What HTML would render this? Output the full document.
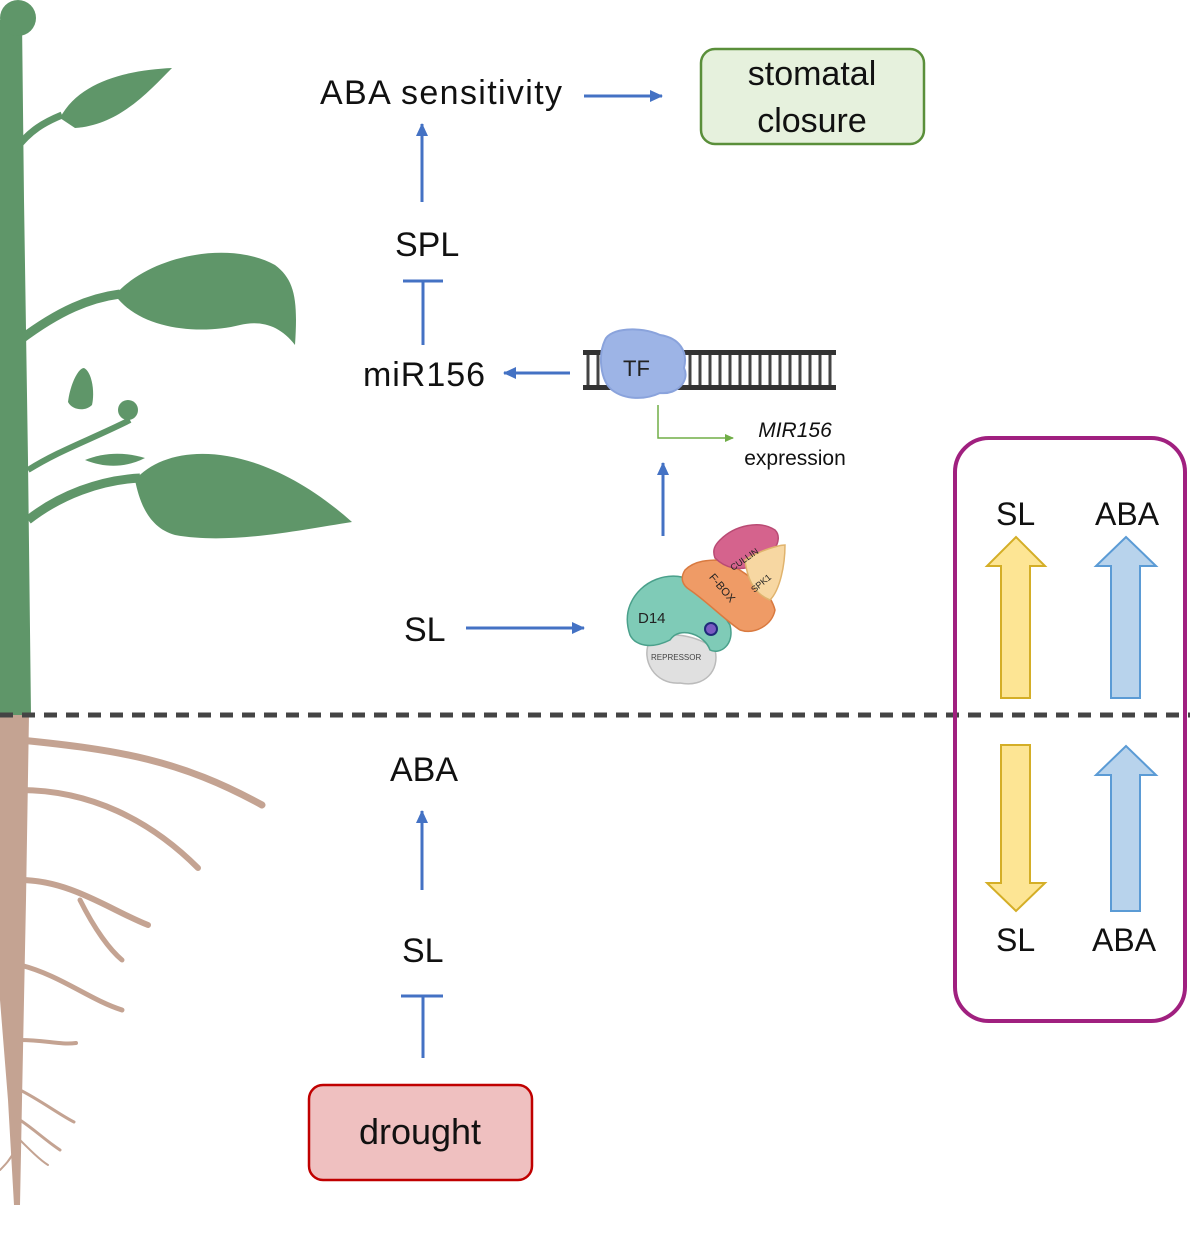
<!DOCTYPE html>
<html><head><meta charset="utf-8"><style>
body{margin:0;background:#fff;}
svg text{font-family:"Liberation Sans",sans-serif;}
</style></head><body>
<svg width="1200" height="1249" viewBox="0 0 1200 1249" xmlns="http://www.w3.org/2000/svg">
<defs>
<marker id="ab" markerWidth="13" markerHeight="12" refX="12" refY="6" orient="auto" markerUnits="userSpaceOnUse"><path d="M0,0 L13,6 L0,12 z" fill="#4472c4"/></marker>
<marker id="ag" markerWidth="9" markerHeight="8" refX="8" refY="4" orient="auto" markerUnits="userSpaceOnUse"><path d="M0,0 L9,4 L0,8 z" fill="#70ad47"/></marker>
</defs>
<!-- roots -->
<g stroke="#c4a392" fill="none" stroke-linecap="round">
<path d="M20,740 C120,750 180,760 262,805" stroke-width="7"/>
<path d="M20,790 C90,790 150,820 198,868" stroke-width="6"/>
<path d="M20,880 C70,880 110,910 148,925" stroke-width="6"/>
<path d="M80,900 C95,930 110,950 122,960" stroke-width="5"/>
<path d="M20,965 C60,975 90,1000 122,1010" stroke-width="5"/>
<path d="M20,1040 C45,1040 60,1045 76,1043" stroke-width="4"/>
<path d="M20,1090 C40,1100 60,1115 74,1122" stroke-width="3"/>
<path d="M20,1120 C35,1130 45,1140 60,1150" stroke-width="3"/>
<path d="M20,1140 C30,1150 40,1160 48,1165" stroke-width="2"/>
<path d="M15,1150 C10,1160 5,1165 0,1170" stroke-width="2"/>
</g>
<path d="M0,715 L29,715 L26,900 L22,1100 L20,1205 L14,1205 L8,1100 L0,1000 z" fill="#c4a392"/>
<!-- stem and leaves -->
<g fill="#5f9669">
<path d="M0,20 L22,20 L24,200 L28,460 L31,715 L0,715 z"/>
<circle cx="18" cy="18" r="18"/>
<path d="M15,150 C30,130 45,122 62,115" stroke="#5f9669" stroke-width="7" fill="none"/>
<path d="M60,118 C80,80 130,70 172,68 C150,90 120,125 75,128 z"/>
<path d="M20,340 C60,310 90,298 120,294" stroke="#5f9669" stroke-width="9" fill="none"/>
<path d="M115,295 C150,255 230,240 275,265 C295,280 298,300 295,345 C280,325 260,320 240,325 C200,335 140,330 115,295 z"/>
<path d="M28,520 C60,495 100,480 140,478" stroke="#5f9669" stroke-width="9" fill="none"/>
<path d="M135,480 C170,440 260,440 352,522 C300,530 230,545 175,535 C150,528 140,505 135,480 z"/>
<path d="M28,470 C60,450 90,440 130,420" stroke="#5f9669" stroke-width="6" fill="none"/>
<path d="M68,402 C70,385 78,368 84,368 C92,372 95,392 92,405 C85,412 72,410 68,402z"/>
<path d="M85,460 C105,452 125,452 145,458 C125,468 105,468 85,460z"/>
<circle cx="128" cy="410" r="10"/>
</g>
<!-- dashed line -->
<line x1="0" y1="715" x2="1190" y2="715" stroke="#444" stroke-width="5" stroke-dasharray="13,9"/>
<!-- texts -->
<g font-size="34" fill="#111">
<text x="320" y="104" textLength="242">ABA sensitivity</text>
<text x="395" y="256">SPL</text>
<text x="363" y="386" textLength="122">miR156</text>
<text x="404" y="641">SL</text>
<text x="390" y="781">ABA</text>
<text x="402" y="962">SL</text>
</g>
<!-- connectors -->
<g stroke="#4472c4" stroke-width="3" fill="none">
<line x1="584" y1="96" x2="662" y2="96" marker-end="url(#ab)"/>
<line x1="422" y1="202" x2="422" y2="124" marker-end="url(#ab)"/>
<line x1="423" y1="345" x2="423" y2="281"/>
<line x1="403" y1="281" x2="443" y2="281"/>
<line x1="570" y1="373" x2="504" y2="373" marker-end="url(#ab)"/>
<line x1="663" y1="536" x2="663" y2="463" marker-end="url(#ab)"/>
<line x1="466" y1="628" x2="584" y2="628" marker-end="url(#ab)"/>
<line x1="422" y1="890" x2="422" y2="811" marker-end="url(#ab)"/>
<line x1="423" y1="1058" x2="423" y2="996"/>
<line x1="401" y1="996" x2="443" y2="996"/>
</g>
<!-- stomatal box -->
<rect x="701" y="49" width="223" height="95" rx="14" fill="#e6f1dd" stroke="#5a8f3a" stroke-width="2.5"/>
<text x="812" y="85" font-size="34" text-anchor="middle" fill="#111">stomatal</text>
<text x="812" y="132" font-size="34" text-anchor="middle" fill="#111">closure</text>
<!-- drought -->
<rect x="309" y="1085" width="223" height="95" rx="14" fill="#efc0c0" stroke="#c00000" stroke-width="2.5"/>
<text x="420" y="1144" font-size="36" text-anchor="middle" fill="#111">drought</text>
<!-- DNA -->
<g>
<rect x="583" y="350" width="253" height="5" fill="#333"/>
<rect x="583" y="385" width="253" height="5" fill="#333"/>
<g stroke="#444" stroke-width="3">
<line x1="588" y1="355" x2="588" y2="385"/><line x1="598" y1="355" x2="598" y2="385"/>
<line x1="690" y1="355" x2="690" y2="385"/><line x1="700" y1="355" x2="700" y2="385"/><line x1="710" y1="355" x2="710" y2="385"/><line x1="720" y1="355" x2="720" y2="385"/><line x1="730" y1="355" x2="730" y2="385"/><line x1="740" y1="355" x2="740" y2="385"/><line x1="750" y1="355" x2="750" y2="385"/><line x1="760" y1="355" x2="760" y2="385"/><line x1="770" y1="355" x2="770" y2="385"/><line x1="780" y1="355" x2="780" y2="385"/><line x1="790" y1="355" x2="790" y2="385"/><line x1="800" y1="355" x2="800" y2="385"/><line x1="810" y1="355" x2="810" y2="385"/><line x1="820" y1="355" x2="820" y2="385"/><line x1="830" y1="355" x2="830" y2="385"/>
</g>
<path d="M605,340 C610,328 640,326 660,335 C680,338 688,352 684,368 C690,380 678,395 660,393 C645,400 625,400 612,390 C600,380 598,355 605,340z" fill="#9db4e6" stroke="#8aa3dc" stroke-width="2"/>
<text x="623" y="376" font-size="22" fill="#222">TF</text>
</g>
<path d="M658,405 L658,438 L733,438" stroke="#70ad47" stroke-width="1.5" fill="none" marker-end="url(#ag)"/>
<text x="795" y="437" font-size="21" font-style="italic" text-anchor="middle" fill="#111">MIR156</text>
<text x="795" y="465" font-size="21" text-anchor="middle" fill="#111">expression</text>
<!-- protein complex -->
<g stroke-width="1.5">
<path d="M650,640 C640,660 655,685 680,683 C705,688 720,670 715,650 C700,635 665,630 650,640z" fill="#e0e0e0" stroke="#bbb"/>
<path d="M630,605 C640,580 670,570 690,580 C710,590 720,610 730,625 C735,645 720,655 710,650 C705,635 680,625 670,640 C650,650 635,645 630,635 C625,620 628,610 630,605z" fill="#7fcbb7" stroke="#4aa08b"/>
<path d="M685,570 C695,560 710,560 720,560 C745,570 770,590 775,610 C772,625 755,635 740,630 C725,620 705,600 690,590 C682,585 680,578 685,570z" fill="#ef9b66" stroke="#d97a40"/>
<path d="M720,540 C735,525 760,520 775,530 C785,540 770,560 755,565 C740,572 725,568 715,558 C712,550 715,545 720,540z" fill="#d5638d" stroke="#b94b74"/>
<path d="M745,560 C760,550 780,545 785,545 C785,565 780,590 770,600 C758,595 748,585 745,560z" fill="#f7d7a2" stroke="#e0b36d"/>
<circle cx="711" cy="629" r="6" fill="#7a5bc2" stroke="#1f2a7a" stroke-width="2"/>
</g>
<text x="638" y="623" font-size="15" fill="#222">D14</text>
<text x="651" y="660" font-size="8" fill="#444">REPRESSOR</text>
<text x="705" y="585" font-size="11" fill="#222" transform="rotate(50 715 585)">F-BOX</text>
<text x="728" y="565" font-size="9" fill="#222" transform="rotate(-35 740 560)">CULLIN</text>
<text x="748" y="588" font-size="9" fill="#222" transform="rotate(-40 758 582)">SPK1</text>
<!-- right box -->
<rect x="955" y="438" width="230" height="583" rx="34" fill="none" stroke="#a0207f" stroke-width="4"/>
<g font-size="32" fill="#111">
<text x="996" y="525">SL</text>
<text x="1095" y="525">ABA</text>
<text x="996" y="951">SL</text>
<text x="1092" y="951">ABA</text>
</g>
<path d="M1001,698 L1001,566 L987,566 L1016,537 L1045,566 L1030,566 L1030,698z" fill="#fde594" stroke="#d4ae27" stroke-width="2"/>
<path d="M1111,698 L1111,566 L1096,566 L1126,537 L1156,566 L1140,566 L1140,698z" fill="#b8d3ec" stroke="#5b9bd5" stroke-width="2"/>
<path d="M1001,745 L1001,883 L987,883 L1016,911 L1045,883 L1030,883 L1030,745z" fill="#fde594" stroke="#d4ae27" stroke-width="2"/>
<path d="M1111,911 L1111,775 L1096,775 L1126,746 L1156,775 L1140,775 L1140,911z" fill="#b8d3ec" stroke="#5b9bd5" stroke-width="2"/>
</svg>
</body></html>
